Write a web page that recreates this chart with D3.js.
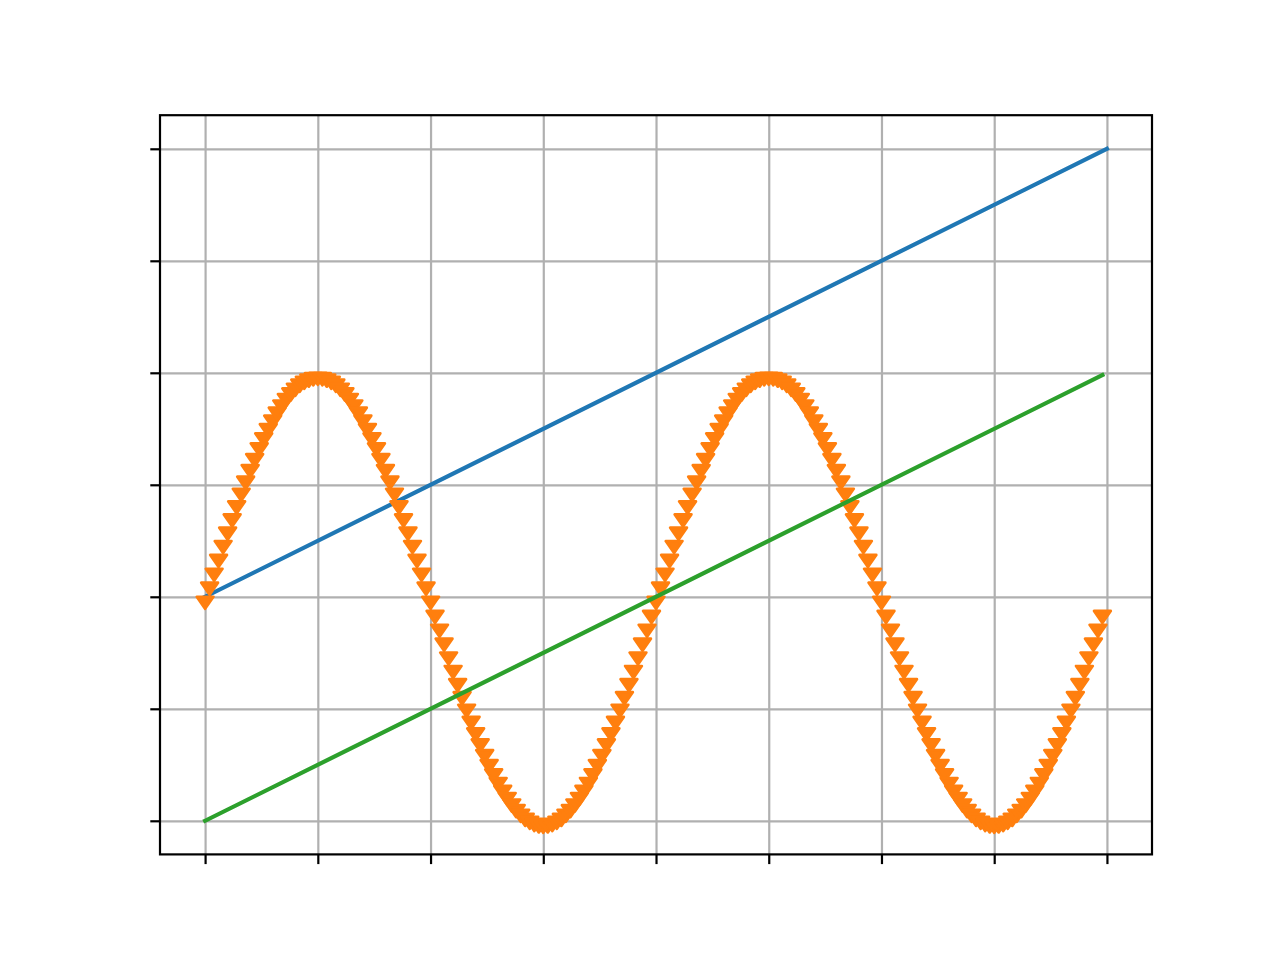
<!DOCTYPE html>
<html>
<head>
<meta charset="utf-8">
<script src="https://cdn.jsdelivr.net/npm/d3@7"></script>
<style>
  body { margin: 0; background: #fff; }
  .grid line { stroke: #b0b0b0; stroke-width: 2.2px; }
  .grid path { display: none; }
  .axis path { display: none; }
  .axis line { stroke: #000; stroke-width: 2.2px; }
</style>
</head>
<body>
<div id="chart"></div>
<script>
// x values of the sampled sine (200 points)
const sineX = [
  0.000, 0.063, 0.126, 0.188, 0.251, 0.314, 0.377, 0.440, 0.503, 0.565,
  0.628, 0.691, 0.754, 0.817, 0.880, 0.942, 1.005, 1.068, 1.131, 1.194,
  1.257, 1.319, 1.382, 1.445, 1.508, 1.571, 1.634, 1.696, 1.759, 1.822,
  1.885, 1.948, 2.011, 2.073, 2.136, 2.199, 2.262, 2.325, 2.388, 2.450,
  2.513, 2.576, 2.639, 2.702, 2.765, 2.827, 2.890, 2.953, 3.016, 3.079,
  3.142, 3.204, 3.267, 3.330, 3.393, 3.456, 3.519, 3.581, 3.644, 3.707,
  3.770, 3.833, 3.896, 3.958, 4.021, 4.084, 4.147, 4.210, 4.273, 4.335,
  4.398, 4.461, 4.524, 4.587, 4.650, 4.712, 4.775, 4.838, 4.901, 4.964,
  5.027, 5.089, 5.152, 5.215, 5.278, 5.341, 5.404, 5.466, 5.529, 5.592,
  5.655, 5.718, 5.781, 5.843, 5.906, 5.969, 6.032, 6.095, 6.158, 6.220,
  6.283, 6.346, 6.409, 6.472, 6.535, 6.597, 6.660, 6.723, 6.786, 6.849,
  6.912, 6.974, 7.037, 7.100, 7.163, 7.226, 7.288, 7.351, 7.414, 7.477,
  7.540, 7.603, 7.665, 7.728, 7.791, 7.854, 7.917, 7.980, 8.042, 8.105,
  8.168, 8.231, 8.294, 8.357, 8.419, 8.482, 8.545, 8.608, 8.671, 8.734,
  8.796, 8.859, 8.922, 8.985, 9.048, 9.111, 9.173, 9.236, 9.299, 9.362,
  9.425, 9.488, 9.550, 9.613, 9.676, 9.739, 9.802, 9.865, 9.927, 9.990,
  10.053, 10.116, 10.179, 10.242, 10.304, 10.367, 10.430, 10.493, 10.556, 10.619,
  10.681, 10.744, 10.807, 10.870, 10.933, 10.996, 11.058, 11.121, 11.184, 11.247,
  11.310, 11.372, 11.435, 11.498, 11.561, 11.624, 11.687, 11.749, 11.812, 11.875,
  11.938, 12.001, 12.064, 12.126, 12.189, 12.252, 12.315, 12.378, 12.441, 12.503
];

// orange triangle markers
const sineY = [
  0.000, 0.063, 0.125, 0.187, 0.249, 0.309, 0.368, 0.426, 0.482, 0.536,
  0.588, 0.637, 0.685, 0.729, 0.771, 0.809, 0.844, 0.876, 0.905, 0.930,
  0.951, 0.969, 0.982, 0.992, 0.998, 1.000, 0.998, 0.992, 0.982, 0.969,
  0.951, 0.930, 0.905, 0.876, 0.844, 0.809, 0.771, 0.729, 0.685, 0.637,
  0.588, 0.536, 0.482, 0.426, 0.368, 0.309, 0.249, 0.187, 0.125, 0.063,
  0.000, -0.063, -0.125, -0.187, -0.249, -0.309, -0.368, -0.426, -0.482, -0.536,
  -0.588, -0.637, -0.685, -0.729, -0.771, -0.809, -0.844, -0.876, -0.905, -0.930,
  -0.951, -0.969, -0.982, -0.992, -0.998, -1.000, -0.998, -0.992, -0.982, -0.969,
  -0.951, -0.930, -0.905, -0.876, -0.844, -0.809, -0.771, -0.729, -0.685, -0.637,
  -0.588, -0.536, -0.482, -0.426, -0.368, -0.309, -0.249, -0.187, -0.125, -0.063,
  0.000, 0.063, 0.125, 0.187, 0.249, 0.309, 0.368, 0.426, 0.482, 0.536,
  0.588, 0.637, 0.685, 0.729, 0.771, 0.809, 0.844, 0.876, 0.905, 0.930,
  0.951, 0.969, 0.982, 0.992, 0.998, 1.000, 0.998, 0.992, 0.982, 0.969,
  0.951, 0.930, 0.905, 0.876, 0.844, 0.809, 0.771, 0.729, 0.685, 0.637,
  0.588, 0.536, 0.482, 0.426, 0.368, 0.309, 0.249, 0.187, 0.125, 0.063,
  0.000, -0.063, -0.125, -0.187, -0.249, -0.309, -0.368, -0.426, -0.482, -0.536,
  -0.588, -0.637, -0.685, -0.729, -0.771, -0.809, -0.844, -0.876, -0.905, -0.930,
  -0.951, -0.969, -0.982, -0.992, -0.998, -1.000, -0.998, -0.992, -0.982, -0.969,
  -0.951, -0.930, -0.905, -0.876, -0.844, -0.809, -0.771, -0.729, -0.685, -0.637,
  -0.588, -0.536, -0.482, -0.426, -0.368, -0.309, -0.249, -0.187, -0.125, -0.063
];

// straight lines (end points)
const blueX = [0, 12.566];
const blueY = [0, 2];
const greenX = [0, 12.503];
const greenY = [-1, 0.99];

// tick positions (no labels shown)
const xTicks = [0, 1.5708, 3.1416, 4.7124, 6.2832, 7.854, 9.4248, 10.9956, 12.5664];
const yTicks = [-1, -0.5, 0, 0.5, 1, 1.5, 2];

const W = 1280, H = 960;
const margin = { top: 115.2, right: 128, bottom: 105.6, left: 160 };
const width = W - margin.left - margin.right;
const height = H - margin.top - margin.bottom;

const svg = d3.select("#chart")
  .append("svg")
  .attr("width", W)
  .attr("height", H);

const g = svg.append("g")
  .attr("transform", `translate(${margin.left},${margin.top})`);

// data limits with 5% padding like matplotlib
const xMin = 0, xMax = 12.566;
const xPad = (xMax - xMin) * 0.05;
const x = d3.scaleLinear().domain([xMin - xPad, xMax + xPad]).range([0, width]);
const yPad = 3 * 0.05;
const y = d3.scaleLinear().domain([-1 - yPad, 2 + yPad]).range([height, 0]);

// grid
g.append("g")
  .attr("class", "grid")
  .attr("transform", `translate(0,${height})`)
  .call(d3.axisBottom(x).tickValues(xTicks).tickSize(-height).tickFormat(""));
g.append("g")
  .attr("class", "grid")
  .call(d3.axisLeft(y).tickValues(yTicks).tickSize(-width).tickFormat(""));

g.append("clipPath").attr("id", "clip")
  .append("rect").attr("width", width).attr("height", height);

const plot = g.append("g").attr("clip-path", "url(#clip)");

const line = d3.line().x(d => x(d[0])).y(d => y(d[1]));

// blue
plot.append("path")
  .datum(blueX.map((v, i) => [v, blueY[i]]))
  .attr("fill", "none")
  .attr("stroke", "#1f77b4")
  .attr("stroke-width", 4.17)
  .attr("stroke-linecap", "square")
  .attr("d", line);

// orange triangle_down markers (flat top edge sits at the data point)
const s = 8.33, h = 12;
plot.append("g")
  .selectAll("path")
  .data(sineX.map((v, i) => [v, sineY[i]]))
  .join("path")
  .attr("transform", d => `translate(${x(d[0])},${y(d[1])})`)
  .attr("d", `M0,${h}L${-s},0L${s},0Z`)
  .attr("fill", "#ff7f0e")
  .attr("stroke", "#ff7f0e")
  .attr("stroke-width", 2.78)
  .attr("stroke-linejoin", "round");

// green
plot.append("path")
  .datum(greenX.map((v, i) => [v, greenY[i]]))
  .attr("fill", "none")
  .attr("stroke", "#2ca02c")
  .attr("stroke-width", 4.17)
  .attr("stroke-linecap", "square")
  .attr("d", line);

// ticks
g.append("g")
  .attr("class", "axis")
  .attr("transform", `translate(0,${height})`)
  .call(d3.axisBottom(x).tickValues(xTicks).tickSize(9.7).tickFormat(""));
g.append("g")
  .attr("class", "axis")
  .call(d3.axisLeft(y).tickValues(yTicks).tickSize(9.7).tickFormat(""));

// spines
g.append("rect")
  .attr("width", width)
  .attr("height", height)
  .attr("fill", "none")
  .attr("stroke", "#000")
  .attr("stroke-width", 2.2);
</script>
</body>
</html>
